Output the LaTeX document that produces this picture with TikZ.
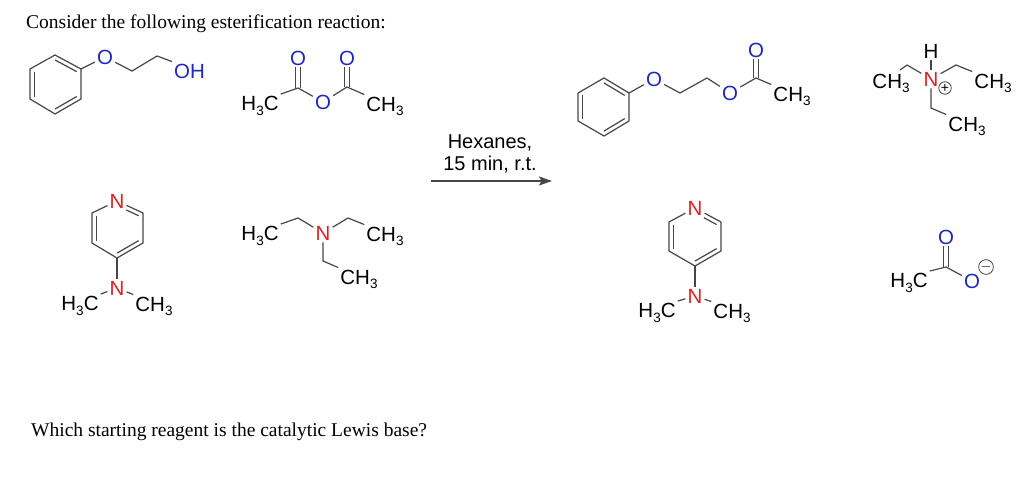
\documentclass[tikz,border=0pt]{standalone}
\usepackage{fontspec}
\setmainfont{Liberation Serif}
\newfontfamily\labelfont{Liberation Sans}
\usetikzlibrary{calc,arrows.meta}
\definecolor{bondgray}{RGB}{70, 70, 70}
\definecolor{oxygenblue}{RGB}{30, 40, 190}
\definecolor{nitrogenred}{RGB}{225, 30, 35}
\newcommand{\subthree}{\raisebox{-0.22em}{\fontsize{13.5}{13.5}\selectfont 3}}
\newcommand{\methyl}{CH\subthree}
\newcommand{\methylrev}{H\subthree C}
% inner line of a ring double bond: vertex, vertex, ring centre
\newcommand{\ringdouble}[4][]{\draw[bond, #1] ($(#2)!.17!(#4)$) -- ($(#3)!.17!(#4)$);}
\tikzset{
    bond/.style={color=bondgray, line width=1.2pt},
    doubleleft/.style={bond, transform canvas={xshift=-2.4pt}},
    doubleright/.style={bond, transform canvas={xshift=2.4pt}},
    atom/.style={font=\labelfont\fontsize{20.5}{20.5}\selectfont, inner sep=2pt, text height=14.5pt, text depth=0pt, text=black},
    oxygen/.style={atom, text=oxygenblue},
    nitrogen/.style={atom, text=nitrogenred},
    charge/.style={draw=bondgray, circle, line width=0.8pt, inner sep=0pt, minimum size=12.5pt, font=\labelfont\fontsize{14}{14}\selectfont, text=black},
    question/.style={font=\fontsize{19.5}{19.5}\selectfont, anchor=west, inner sep=0pt, text=black},
    condition/.style={font=\labelfont\fontsize{20}{20}\selectfont, inner sep=0pt, text=black},
}
\begin{document}
\begin{tikzpicture}[x=1pt, y=-1pt]
    \useasboundingbox (0,0) rectangle (1024,484);

    \node[question] (intro) at (26,23.5) {Consider the following esterification reaction:};
    \node[question] (ask) at (31,431.5) {Which starting reagent is the catalytic Lewis base?};

    % phenoxyethanol
    \coordinate (pa1) at (55,55);   \coordinate (pa2) at (81,69);   \coordinate (pa3) at (81,99);
    \coordinate (pa4) at (55,114);  \coordinate (pa5) at (30,99);   \coordinate (pa6) at (30,69);
    \coordinate (pactr) at (55.5,84.5);
    \coordinate (pa7) at (132,71);  \coordinate (pa8) at (157,56);
    \node[oxygen] (paO) at (105,57) {O};
    \node[oxygen, anchor=west] (paOH) at (172,71) {OH};
    \draw[bond, line join=round] (pa1) -- (pa2) -- (pa3) -- (pa4) -- (pa5) -- (pa6) -- cycle;
    \ringdouble{pa1}{pa2}{pactr} \ringdouble{pa3}{pa4}{pactr} \ringdouble{pa5}{pa6}{pactr}
    \draw[bond] (pa2) -- (paO);
    \draw[bond, line join=round] (paO) -- (pa7) -- (pa8) -- (paOH.north west);

    % acetic anhydride
    \coordinate (an1) at (298,88);  \coordinate (an2) at (347,87);
    \node[oxygen] (anO1) at (298,58) {O};
    \node[oxygen] (anO2) at (347,58) {O};
    \node[oxygen] (anO3) at (323,102) {O};
    \node[atom] (anL) at (260,103.5) {\methylrev};
    \node[atom] (anR) at (385,104) {\methyl};
    \draw[doubleleft] (an1) -- (anO1);  \draw[doubleright] (an1) -- (anO1);
    \draw[doubleleft] (an2) -- (anO2);  \draw[doubleright] (an2) -- (anO2);
    \draw[bond] (anL.north east) -- (an1) -- (anO3);
    \draw[bond] (anO3) -- (an2) -- (anR.north west);

    % arrow
    \node[condition] (hex) at (490,143) {Hexanes,};
    \node[condition] (time) at (490,165) {15 min, r.t.};
    \coordinate (arrowtail) at (431,181);  \coordinate (arrowhead) at (552,181);
    \draw[bond, -{Stealth[length=13pt, width=9pt, inset=2.5pt]}] (arrowtail) -- (arrowhead);

    % ester product
    \coordinate (pb1) at (604,78);  \coordinate (pb2) at (629,93);  \coordinate (pb3) at (629,121);
    \coordinate (pb4) at (604,136); \coordinate (pb5) at (578,121); \coordinate (pb6) at (578,93);
    \coordinate (pbctr) at (603.5,107);
    \coordinate (pb7) at (680,93);  \coordinate (pb8) at (707,78);  \coordinate (pb9) at (756,78);
    \node[oxygen] (pbO1) at (654,79) {O};
    \node[oxygen] (pbO2) at (730,93) {O};
    \node[oxygen] (pbO3) at (756,50) {O};
    \node[atom] (pbR) at (792,94) {\methyl};
    \draw[bond, line join=round] (pb1) -- (pb2) -- (pb3) -- (pb4) -- (pb5) -- (pb6) -- cycle;
    \ringdouble{pb1}{pb2}{pbctr} \ringdouble{pb3}{pb4}{pbctr} \ringdouble{pb5}{pb6}{pbctr}
    \draw[bond] (pb2) -- (pbO1);
    \draw[bond, line join=round] (pbO1) -- (pb7) -- (pb8) -- (pbO2);
    \draw[bond] (pbO2) -- (pb9) -- (pbR.north west);
    \draw[doubleleft] (pb9) -- (pbO3);  \draw[doubleright] (pb9) -- (pbO3);

    % triethylammonium
    \coordinate (am1) at (907,65);  \coordinate (am2) at (956,65);  \coordinate (am3) at (931,108);
    \coordinate (amLend) at (900,70);
    \node[nitrogen] (amN) at (931,79) {N};
    \node[atom] (amH) at (931,51) {H};
    \node[atom] (amL) at (891,81) {\methyl};
    \node[atom] (amR) at (993,81) {\methyl};
    \node[atom] (amD) at (967,124) {\methyl};
    \node[charge] (amQ) at (945,88) {+};
    \draw[bond] (amN) -- (amH);
    \draw[bond, line join=round] (amLend) -- (am1) -- (amN);
    \draw[bond, line join=round] (amN) -- (am2) -- (amR.north west);
    \draw[bond, line join=round] (amN) -- (am3) -- (amD.north west);

    % DMAP reagent
    \coordinate (da1) at (92,213);  \coordinate (da2) at (92,243);  \coordinate (da3) at (117,258);
    \coordinate (da4) at (143,243); \coordinate (da5) at (143,213); \coordinate (dactr) at (117.5,229);
    \node[nitrogen] (daN) at (117,201) {N};
    \node[nitrogen] (daN2) at (117,288) {N};
    \node[atom] (daL) at (80,303.5) {\methylrev};
    \node[atom] (daR) at (154,304) {\methyl};
    \draw[bond, line join=round] (daN) -- (da1) -- (da2) -- (da3) -- (da4) -- (da5) -- (daN);
    \ringdouble{da1}{da2}{dactr} \ringdouble{da3}{da4}{dactr}
    \ringdouble[shorten <=10pt]{daN}{da5}{dactr}
    \draw[bond] (da3) -- (daN2);
    \draw[bond] (daN2) -- (daL.north east);
    \draw[bond] (daN2) -- (daR.north west);

    % triethylamine
    \coordinate (te1) at (298,218); \coordinate (te2) at (348,218); \coordinate (te3) at (323,261);
    \node[nitrogen] (teN) at (323,233) {N};
    \node[atom] (teL) at (260,233.5) {\methylrev};
    \node[atom] (teR) at (385,234) {\methyl};
    \node[atom] (teD) at (359,277) {\methyl};
    \draw[bond, line join=round] (teL.north east) -- (te1) -- (teN);
    \draw[bond, line join=round] (teN) -- (te2) -- (teR.north west);
    \draw[bond, line join=round] (teN) -- (te3) -- (teD.north west);

    % DMAP product
    \coordinate (db1) at (669,222); \coordinate (db2) at (669,251); \coordinate (db3) at (695,266);
    \coordinate (db4) at (721,251); \coordinate (db5) at (721,222); \coordinate (dbctr) at (695,237);
    \node[nitrogen] (dbN) at (695,208) {N};
    \node[nitrogen] (dbN2) at (695,296) {N};
    \node[atom] (dbL) at (657,310.5) {\methylrev};
    \node[atom] (dbR) at (732,311) {\methyl};
    \draw[bond, line join=round] (dbN) -- (db1) -- (db2) -- (db3) -- (db4) -- (db5) -- (dbN);
    \ringdouble{db1}{db2}{dbctr} \ringdouble{db3}{db4}{dbctr}
    \ringdouble[shorten <=10pt]{dbN}{db5}{dbctr}
    \draw[bond] (db3) -- (dbN2);
    \draw[bond] (dbN2) -- (dbL.north east);
    \draw[bond] (dbN2) -- (dbR.north west);

    % acetate
    \coordinate (ac1) at (946,267);
    \node[oxygen] (acO1) at (946,237) {O};
    \node[oxygen] (acO2) at (972,281) {O};
    \node[atom] (acL) at (909,280.5) {\methylrev};
    \node[charge] (acQ) at (986,267) {$-$};
    \draw[doubleleft] (ac1) -- (acO1);  \draw[doubleright] (ac1) -- (acO1);
    \draw[bond] (acL.north east) -- (ac1) -- (acO2);
\end{tikzpicture}
\end{document}
